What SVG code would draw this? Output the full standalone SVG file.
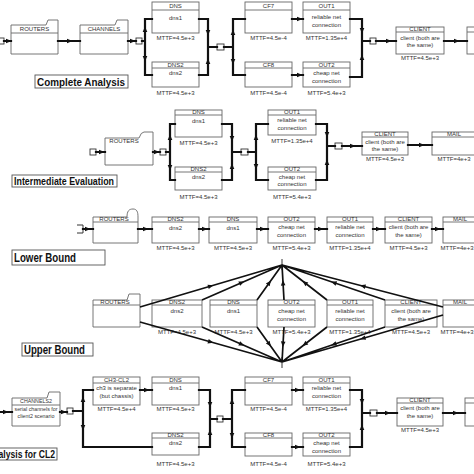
<svg xmlns="http://www.w3.org/2000/svg" width="474" height="474" viewBox="0 0 474 474">
<defs>
<style>
.b{fill:#fff;stroke:#666;stroke-width:.9}
.h{stroke:#666;stroke-width:.9}
text{font-family:"Liberation Sans",Arial,sans-serif;font-size:6px;fill:#333;text-anchor:middle}
.s{font-size:5.3px}
.c{fill:none;stroke:#111;stroke-width:2.2;stroke-linecap:square;stroke-linejoin:miter}
.f{fill:none;stroke:#111;stroke-width:1.7}
.t{fill:none;stroke:#333;stroke-width:1}
.j{fill:#fff;stroke:#333;stroke-width:.9}
.lb{fill:#fff;stroke:#555;stroke-width:.9}
.L{font-size:11px;font-weight:bold;fill:#111;text-anchor:start}
.LE{font-size:10px;font-weight:bold;fill:#111;text-anchor:end}
</style>
<path id="a" d="M-3,-2.3L2.5,0L-3,2.3z" fill="#111"/>
</defs>
<rect width="474" height="474" fill="#fff"/>

<!-- ===== Row 1: Complete Analysis ===== -->
<g id="r1-in"><rect class="j" x="-3" y="38" width="7" height="6"/></g>
<g id="r1-routers"><path class="b" d="M11,25H46L48,20H58V54H11Z"/><line class="h" x1="11" y1="33" x2="58" y2="33"/><text x="34.5" y="31">ROUTERS</text></g>
<g id="r1-channels"><path class="b" d="M80,25H115L117,20H128V54H80Z"/><line class="h" x1="80" y1="33" x2="128" y2="33"/><text x="104" y="31">CHANNELS</text></g>
<g id="r1-j1"><rect class="j" x="136" y="38" width="6" height="6"/></g>
<g id="r1-dns"><rect class="b" x="152" y="2" width="47" height="31"/><line class="h" x1="152" y1="10" x2="199" y2="10"/><text x="175.5" y="8">DNS</text><text x="175.5" y="20">dns1</text><text x="175.5" y="40">MTTF=4.5e+3</text></g>
<g id="r1-dns2"><rect class="b" x="152" y="62" width="47" height="25"/><line class="h" x1="152" y1="68" x2="199" y2="68"/><text x="175.5" y="67">DNS2</text><text x="175.5" y="75">dns2</text><text x="175.5" y="95">MTTF=4.5e+3</text></g>
<g id="r1-j2"><rect class="j" x="217" y="44" width="7" height="6"/></g>
<g id="r1-cf7"><rect class="b" x="245" y="2" width="47" height="31"/><line class="h" x1="245" y1="10" x2="292" y2="10"/><text x="268.5" y="8">CF7</text><text x="268.5" y="40">MTTF=4.5e-4</text></g>
<g id="r1-cf8"><rect class="b" x="245" y="62" width="47" height="25"/><line class="h" x1="245" y1="68" x2="292" y2="68"/><text x="268.5" y="67">CF8</text><text x="268.5" y="95">MTTF=4.5e-4</text></g>
<g id="r1-out1"><rect class="b" x="303" y="2" width="47" height="31"/><line class="h" x1="303" y1="10" x2="350" y2="10"/><text x="326.5" y="8">OUT1</text><text x="326.5" y="19">reliable net</text><text x="326.5" y="27">connection</text><text x="326.5" y="40">MTTF=1.35e+4</text></g>
<g id="r1-out2"><rect class="b" x="303" y="62" width="47" height="25"/><line class="h" x1="303" y1="68" x2="350" y2="68"/><text x="326.5" y="67">OUT2</text><text x="326.5" y="75">cheap net</text><text x="326.5" y="83">connection</text><text x="326.5" y="95">MTTF=5.4e+3</text></g>
<g id="r1-j3"><rect class="j" x="370" y="38" width="6" height="6"/></g>
<g id="r1-client"><rect class="b" x="396" y="27" width="48" height="27"/><line class="h" x1="396" y1="32" x2="444" y2="32"/><text x="420" y="31">CLIENT</text><text x="420" y="40">client (both are</text><text x="420" y="47">the same)</text><text x="420" y="60">MTTF=4.5e+3</text></g>
<g id="r1-mail"><rect class="b" x="467" y="27" width="20" height="27"/><line class="h" x1="467" y1="32" x2="487" y2="32"/></g>
<g id="r1-label"><rect class="lb" x="35" y="75" width="93" height="13"/><text class="L" x="37" y="85.5" textLength="88" lengthAdjust="spacingAndGlyphs">Complete Analysis</text></g>

<!-- ===== Row 2: Intermediate Evaluation ===== -->
<g id="r2-in"><rect class="j" x="90" y="149" width="6" height="6"/></g>
<g id="r2-routers"><path class="b" d="M105,138H139Q141,132 144,132H153V165H105Z"/><text x="124" y="143">ROUTERS</text></g>
<g id="r2-j1"><rect class="j" x="160" y="149" width="6" height="6"/></g>
<g id="r2-dns"><rect class="b" x="175" y="110" width="47" height="27"/><line class="h" x1="175" y1="115" x2="222" y2="115"/><text x="198.5" y="114">DNS</text><text x="198.5" y="123">dns1</text><text x="198.5" y="145">MTTF=4.5e+3</text></g>
<g id="r2-dns2"><rect class="b" x="175" y="167" width="47" height="23"/><line class="h" x1="175" y1="172" x2="222" y2="172"/><text x="198.5" y="171">DNS2</text><text x="198.5" y="179">dns2</text><text x="198.5" y="199">MTTF=4.5e+3</text></g>
<g id="r2-j2"><rect class="j" x="241" y="149" width="7" height="6"/></g>
<g id="r2-out1"><rect class="b" x="268" y="110" width="48" height="25"/><line class="h" x1="268" y1="115" x2="316" y2="115"/><text x="292" y="114">OUT1</text><text x="292" y="122">reliable net</text><text x="292" y="130">connection</text><text x="292" y="143">MTTF=1.35e+4</text></g>
<g id="r2-out2"><rect class="b" x="268" y="167" width="48" height="23"/><line class="h" x1="268" y1="172" x2="316" y2="172"/><text x="292" y="171">OUT2</text><text x="292" y="179">cheap net</text><text x="292" y="186">connection</text><text x="292" y="199">MTTF=5.4e+3</text></g>
<g id="r2-j3"><rect class="j" x="335" y="143" width="7" height="6"/></g>
<g id="r2-client"><rect class="b" x="362" y="132" width="46" height="23"/><line class="h" x1="362" y1="137" x2="408" y2="137"/><text x="385" y="136">CLIENT</text><text x="385" y="144">client (both are</text><text x="385" y="151">the same)</text><text x="385" y="161">MTTF=4.5e+3</text></g>
<g id="r2-mail"><rect class="b" x="432" y="132" width="44" height="23"/><line class="h" x1="432" y1="137" x2="476" y2="137"/><text x="454" y="136">MAIL</text><text x="454" y="161">MTTF=4e+3</text></g>
<g id="r2-label"><rect class="lb" x="12" y="175" width="105" height="12"/><text class="L" x="14" y="185" textLength="100" lengthAdjust="spacingAndGlyphs">Intermediate Evaluation</text></g>

<!-- ===== Row 3: Lower Bound ===== -->
<g id="r3-routers"><path class="b" d="M93,217H127C127,211 129,209 133,209C137,209 138,212 138,217V243H93Z"/><line class="h" x1="93" y1="222" x2="138" y2="222"/><text x="114" y="220.5">ROUTERS</text></g>
<g id="r3-dns2"><rect class="b" x="152" y="217" width="47" height="26"/><line class="h" x1="152" y1="222" x2="199" y2="222"/><text x="175.5" y="221">DNS2</text><text x="175.5" y="230">dns2</text><text x="175.5" y="250">MTTF=4.5e+3</text></g>
<g id="r3-dns"><rect class="b" x="209" y="217" width="48" height="26"/><line class="h" x1="209" y1="222" x2="257" y2="222"/><text x="233" y="221">DNS</text><text x="233" y="230">dns1</text><text x="233" y="250">MTTF=4.5e+3</text></g>
<g id="r3-out2"><rect class="b" x="268" y="217" width="47" height="26"/><line class="h" x1="268" y1="222" x2="315" y2="222"/><text x="291.5" y="221">OUT2</text><text x="291.5" y="229">cheap net</text><text x="291.5" y="237">connection</text><text x="291.5" y="250">MTTF=5.4e+3</text></g>
<g id="r3-out1"><rect class="b" x="327" y="217" width="46" height="26"/><line class="h" x1="327" y1="222" x2="373" y2="222"/><text x="350" y="221">OUT1</text><text x="350" y="229">reliable net</text><text x="350" y="237">connection</text><text x="350" y="250">MTTF=1.35e+4</text></g>
<g id="r3-client"><rect class="b" x="385" y="217" width="47" height="26"/><line class="h" x1="385" y1="222" x2="432" y2="222"/><text x="408.5" y="221">CLIENT</text><text x="408.5" y="229">client (both are</text><text x="408.5" y="237">the same)</text><text x="408.5" y="250">MTTF=4.5e+3</text></g>
<g id="r3-mail"><rect class="b" x="443" y="217" width="40" height="26"/><line class="h" x1="443" y1="222" x2="483" y2="222"/><text x="460" y="221">MAIL</text><text x="457" y="250">MTTF=4e+3</text></g>
<g id="r3-label"><rect class="lb" x="12" y="250" width="93" height="15"/><text class="L" x="14" y="262" style="font-size:12px" textLength="62" lengthAdjust="spacingAndGlyphs">Lower Bound</text></g>

<!-- ===== Row 4: Upper Bound ===== -->
<g id="r4-routers"><path class="b" d="M93,300H127L129,294H140V327H93Z"/><line class="h" x1="93" y1="305" x2="140" y2="305"/><text x="115" y="304">ROUTERS</text></g>
<g id="r4-dns2"><rect class="b" x="152" y="300" width="50" height="27"/><line class="h" x1="152" y1="305" x2="202" y2="305"/><text x="177" y="304">DNS2</text><text x="177" y="313">dns2</text><text x="177" y="334">MTTF=4.5e+3</text></g>
<g id="r4-dns"><rect class="b" x="210" y="300" width="47" height="27"/><line class="h" x1="210" y1="305" x2="257" y2="305"/><text x="233.5" y="304">DNS</text><text x="233.5" y="313">dns1</text><text x="233.5" y="334">MTTF=4.5e+3</text></g>
<g id="r4-out2"><rect class="b" x="268" y="300" width="47" height="27"/><line class="h" x1="268" y1="305" x2="315" y2="305"/><text x="291.5" y="304">OUT2</text><text x="291.5" y="313">cheap net</text><text x="291.5" y="321">connection</text><text x="291.5" y="334">MTTF=5.4e+3</text></g>
<g id="r4-out1"><rect class="b" x="327" y="300" width="46" height="27"/><line class="h" x1="327" y1="305" x2="373" y2="305"/><text x="350" y="304">OUT1</text><text x="350" y="313">reliable net</text><text x="350" y="321">connection</text><text x="350" y="334">MTTF=1.35e+4</text></g>
<g id="r4-client"><rect class="b" x="385" y="300" width="52" height="27"/><line class="h" x1="385" y1="305" x2="437" y2="305"/><text x="411" y="304">CLIENT</text><text x="411" y="313">client (both are</text><text x="411" y="321">the same)</text><text x="411" y="334">MTTF=4.5e+3</text></g>
<g id="r4-mail"><rect class="b" x="443" y="300" width="40" height="27"/><line class="h" x1="443" y1="305" x2="483" y2="305"/><text x="460" y="304">MAIL</text><text x="457" y="334">MTTF=4e+3</text></g>
<g id="r4-top"><line class="t" x1="282" y1="259" x2="282" y2="270"/></g>
<g id="r4-bottom"><line class="t" x1="282" y1="357" x2="282" y2="368"/></g>
<g id="r4-label"><rect class="lb" x="22" y="343" width="71" height="13"/><text class="L" x="24" y="354" style="font-size:12px" textLength="61" lengthAdjust="spacingAndGlyphs">Upper Bound</text></g>

<!-- ===== Row 5: Analysis for CL2 ===== -->
<g id="r5-channels2"><path class="b" d="M12,398H47L49,392H60V426H12Z"/><line class="h" x1="12" y1="405" x2="60" y2="405"/><text class="s" x="36" y="403">CHANNELS2</text><text class="s" x="36" y="411">serial channels for</text><text class="s" x="36" y="418">client2 scenario</text></g>
<g id="r5-j1"><rect class="j" x="67" y="408" width="6" height="6"/></g>
<g id="r5-ch3"><rect class="b" x="93" y="377" width="47" height="28"/><line class="h" x1="93" y1="383" x2="140" y2="383"/><text x="116.5" y="382">CH3-CL2</text><text x="116.5" y="390">ch3 is separate</text><text x="116.5" y="398">(but chassis)</text><text x="116.5" y="411">MTTF=4.5e+4</text></g>
<g id="r5-dns"><rect class="b" x="152" y="377" width="47" height="28"/><line class="h" x1="152" y1="383" x2="199" y2="383"/><text x="175.5" y="382">DNS</text><text x="175.5" y="390">dns1</text><text x="175.5" y="411">MTTF=4.5e+3</text></g>
<g id="r5-dns2"><rect class="b" x="152" y="433" width="47" height="22"/><line class="h" x1="152" y1="438" x2="199" y2="438"/><text x="175.5" y="437">DNS2</text><text x="175.5" y="445">dns2</text><text x="175.5" y="466">MTTF=4.5e+3</text></g>
<g id="r5-j2"><rect class="j" x="217" y="416" width="6" height="6"/></g>
<g id="r5-cf7"><rect class="b" x="245" y="377" width="47" height="28"/><line class="h" x1="245" y1="383" x2="292" y2="383"/><text x="268.5" y="382">CF7</text><text x="268.5" y="411">MTTF=4.5e-4</text></g>
<g id="r5-out1"><rect class="b" x="303" y="377" width="47" height="28"/><line class="h" x1="303" y1="383" x2="350" y2="383"/><text x="326.5" y="382">OUT1</text><text x="326.5" y="390">reliable net</text><text x="326.5" y="398">connection</text><text x="326.5" y="411">MTTF=1.35e+4</text></g>
<g id="r5-cf8"><rect class="b" x="245" y="433" width="47" height="23"/><line class="h" x1="245" y1="438" x2="292" y2="438"/><text x="268.5" y="437">CF8</text><text x="268.5" y="466">MTTF=4.5e-4</text></g>
<g id="r5-out2"><rect class="b" x="303" y="433" width="47" height="23"/><line class="h" x1="303" y1="438" x2="350" y2="438"/><text x="326.5" y="437">OUT2</text><text x="326.5" y="445">cheap net</text><text x="326.5" y="453">connection</text><text x="326.5" y="466">MTTF=5.4e+3</text></g>
<g id="r5-j3"><rect class="j" x="370" y="410" width="7" height="6"/></g>
<g id="r5-client"><rect class="b" x="397" y="398" width="46" height="28"/><line class="h" x1="397" y1="403" x2="443" y2="403"/><text x="420" y="402">CLIENT</text><text x="420" y="410">client (both are</text><text x="420" y="418">the same)</text><text x="420" y="432">MTTF=4.5e+3</text></g>
<g id="r5-mail"><rect class="b" x="465" y="398" width="20" height="28"/><line class="h" x1="465" y1="403" x2="485" y2="403"/></g>
<g id="r5-label"><rect class="lb" x="-2" y="448" width="59" height="12"/><text class="LE" x="55" y="458" textLength="68" lengthAdjust="spacingAndGlyphs">Analysis for CL2</text></g>

<!-- ===== Connectors ===== -->
<g id="connectors">
<!-- row 1 -->
<path class="c" d="M4,41H11M58,41H80M128,41H136M142,41H145M152,19H145V75H152"/>
<path class="c" d="M199,19H208V75H199M208,47H217M224,47H233M245,19H233V75H245"/>
<path class="c" d="M292,19H303M292,75H303M350,19H362V77H350M362,41H370M376,41H396M444,41H467"/>
<use href="#a" transform="translate(9,41)"/>
<use href="#a" transform="translate(70,41)"/>
<use href="#a" transform="translate(133,41)"/>
<use href="#a" transform="translate(145,29) rotate(-90)"/>
<use href="#a" transform="translate(145,59) rotate(90)"/>
<use href="#a" transform="translate(208,33) rotate(90)"/>
<use href="#a" transform="translate(208,61) rotate(-90)"/>
<use href="#a" transform="translate(233,32) rotate(-90)"/>
<use href="#a" transform="translate(233,62) rotate(90)"/>
<use href="#a" transform="translate(300,19)"/>
<use href="#a" transform="translate(300,75)"/>
<use href="#a" transform="translate(362,31) rotate(90)"/>
<use href="#a" transform="translate(362,57) rotate(-90)"/>
<use href="#a" transform="translate(389,41)"/>
<use href="#a" transform="translate(457,41)"/>
<!-- row 2 -->
<path class="c" d="M96,152H105M153,152H160M166,152H170M175,124H170V180H175"/>
<path class="c" d="M222,124H232V180H222M232,152H241M248,152H256M268,124H256V180H268"/>
<path class="c" d="M316,124H327V180H316M327,146H335M342,146H362M408,145H432"/>
<use href="#a" transform="translate(102,152)"/>
<use href="#a" transform="translate(157,152)"/>
<use href="#a" transform="translate(170,137) rotate(-90)"/>
<use href="#a" transform="translate(170,168) rotate(90)"/>
<use href="#a" transform="translate(232,139) rotate(90)"/>
<use href="#a" transform="translate(232,166) rotate(-90)"/>
<use href="#a" transform="translate(256,137) rotate(-90)"/>
<use href="#a" transform="translate(256,167) rotate(90)"/>
<use href="#a" transform="translate(327,135) rotate(90)"/>
<use href="#a" transform="translate(327,162) rotate(-90)"/>
<use href="#a" transform="translate(353,146)"/>
<use href="#a" transform="translate(422,145)"/>
<!-- row 3 -->
<path class="t" d="M77,225H83V233H77"/>
<path class="c" d="M83,229H93M138,229H152M199,229H209M257,229H268M315,229H327M373,229H385M432,229H443"/>
<use href="#a" transform="translate(88,229)"/>
<use href="#a" transform="translate(146,229)"/>
<use href="#a" transform="translate(205,229)"/>
<use href="#a" transform="translate(263,229)"/>
<use href="#a" transform="translate(321,229)"/>
<use href="#a" transform="translate(379,229)"/>
<use href="#a" transform="translate(438,229)"/>
<!-- row 4 -->
<path class="f" d="M140,307L282,265M202,300L282,265M257,300L282,265M284,300L282,265M327,300L282,265M385,300L282,265M443,307L282,265"/>
<path class="f" d="M140,322L282,362M202,327L282,362M257,327L282,362M284,327L282,362M327,327L282,362M385,327L282,362M443,315L282,362"/>
<use href="#a" transform="translate(211,286) rotate(-16.5)"/>
<use href="#a" transform="translate(242,282.5) rotate(-23.6)"/>
<use href="#a" transform="translate(269.5,282.5) rotate(-54.5)"/>
<use href="#a" transform="translate(283,282.5) rotate(-93.3)"/>
<use href="#a" transform="translate(304.5,282.5) rotate(-142.1)"/>
<use href="#a" transform="translate(333.5,282.5) rotate(-161.2)"/>
<use href="#a" transform="translate(362.5,286) rotate(-165.4)"/>
<use href="#a" transform="translate(211,342) rotate(15.7)"/>
<use href="#a" transform="translate(242,344.5) rotate(23.6)"/>
<use href="#a" transform="translate(269.5,344.5) rotate(54.5)"/>
<use href="#a" transform="translate(283,344.5) rotate(93.3)"/>
<use href="#a" transform="translate(304.5,344.5) rotate(142.1)"/>
<use href="#a" transform="translate(333.5,344.5) rotate(161.2)"/>
<use href="#a" transform="translate(362.5,338.5) rotate(163.7)"/>
<!-- row 5 -->
<path class="c" d="M0,412H12M60,412H67M73,411H83M93,390H83V447H152M140,390H152"/>
<path class="c" d="M199,390H210V447H199M210,419H217M223,419H232M245,390H232V447H245"/>
<path class="c" d="M292,390H303M292,447H303M350,390H362V447H350M362,413H370M377,413H397M443,413H465"/>
<use href="#a" transform="translate(6,412)"/>
<use href="#a" transform="translate(64,412)"/>
<use href="#a" transform="translate(83,399) rotate(-90)"/>
<use href="#a" transform="translate(83,428) rotate(90)"/>
<use href="#a" transform="translate(147,390)"/>
<use href="#a" transform="translate(210,405) rotate(90)"/>
<use href="#a" transform="translate(210,432) rotate(-90)"/>
<use href="#a" transform="translate(232,401) rotate(-90)"/>
<use href="#a" transform="translate(232,436) rotate(90)"/>
<use href="#a" transform="translate(298,390)"/>
<use href="#a" transform="translate(298,447)"/>
<use href="#a" transform="translate(362,402) rotate(90)"/>
<use href="#a" transform="translate(362,427) rotate(-90)"/>
<use href="#a" transform="translate(388,413)"/>
<use href="#a" transform="translate(456,413)"/>
</g>
</svg>
